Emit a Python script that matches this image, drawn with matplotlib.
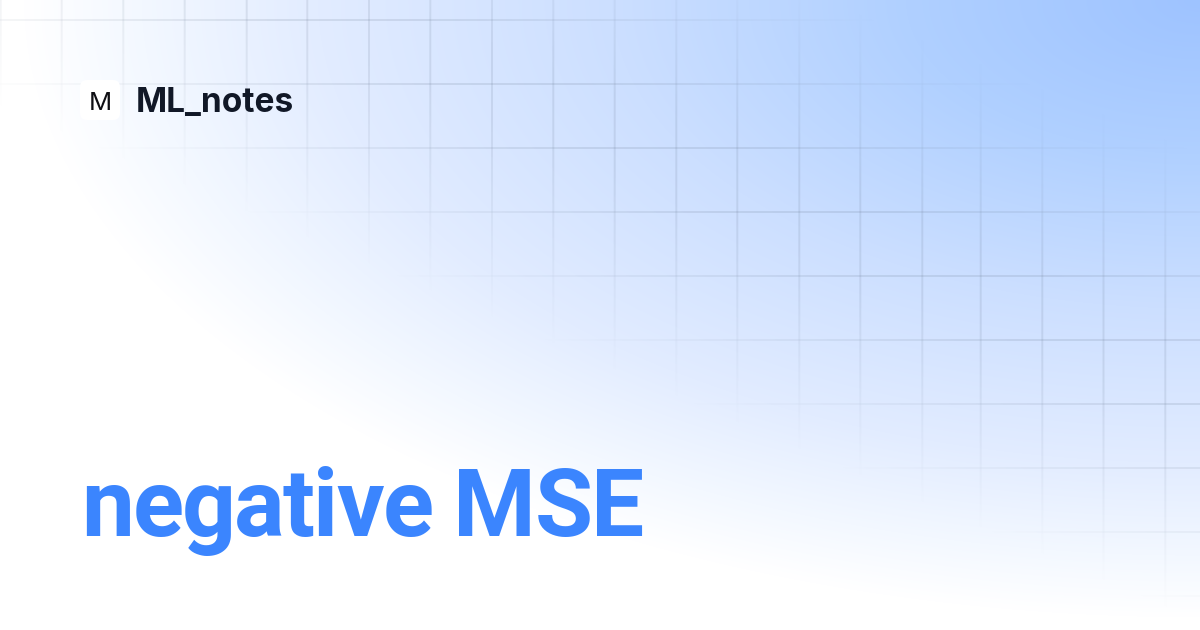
#!/usr/bin/env python3
import numpy as np
import matplotlib
matplotlib.use("Agg")
import matplotlib.pyplot as plt
from matplotlib.font_manager import findfont, get_font
from matplotlib.ft2font import LoadFlags, Kerning
from matplotlib.patches import FancyBboxPatch
from matplotlib.text import Text
from matplotlib.transforms import IdentityTransform

# --- card texts and grid positions (px) ---
BRAND = "ML_notes"
ICON_LETTER = "M"
TITLE = "negative MSE"
GRID_X = [0.7, 61.7, 123.3, 184.7, 246.7, 307.3, 369, 430.3, 492, 553.3,
          614.7, 676.3, 737.3, 799.3, 860.3, 922.3, 980.7, 1042.3, 1103.5, 1165.3]
GRID_Y = [20, 84, 148, 212, 276, 340, 404, 468, 532, 596]

W, H = 1200, 630


class TrackedText(Text):
    """One text object, drawn glyph by glyph with letter spacing in pixels."""

    def __init__(self, *args, tracking=0, **kwargs):
        super().__init__(*args, **kwargs)
        self.tracking = tracking

    def draw(self, renderer):
        prop = self.get_fontproperties()
        font = get_font(findfont(prop))
        font.set_size(prop.get_size_in_points(), self.get_figure().dpi)
        x, y = self.get_transform().transform(self.get_position())
        prev = None
        for ch in self.get_text():
            glyph = font.load_char(ord(ch), flags=LoadFlags.NO_HINTING)
            index = font.get_char_index(ord(ch))
            if prev is not None:
                x += font.get_kerning(prev, index, Kerning.DEFAULT) / 64
            piece = Text(x, y, ch, fontproperties=prop, color=self.get_color(),
                         ha="left", va="baseline", transform=IdentityTransform())
            piece.set_figure(self.get_figure())
            piece.draw(renderer)
            x += glyph.linearHoriAdvance / 65536 + self.tracking
            prev = index


fig = plt.figure(figsize=(W / 100, H / 100), dpi=100)
ax = fig.add_axes([0, 0, 1, 1])
ax.axis("off")

# radial wash from the top right corner, squashed to the card shape
xx, yy = np.meshgrid(np.arange(W) + 0.5, np.arange(H) + 0.5)
d = np.sqrt(((W - xx) / W) ** 2 + (yy / H) ** 2)
t = np.clip(d / 0.98, 0, 1)
# colour stops along the radius, picked by eye
stops = [0.0, 0.25, 0.5, 0.75, 0.9, 1.0]
reds = [158, 176, 204, 226, 243, 255]
greens = [195, 208, 223, 236, 248, 255]
blues = [255, 255, 255, 255, 255, 255]
base = np.dstack([np.interp(t, stops, c) / 255 for c in (reds, greens, blues)])
ax.imshow(base, extent=(0, W, H, 0), aspect="auto", zorder=0, interpolation="bilinear")

# grid lines, later covered by the fade layer (soft, not snapped to pixels)
ax.vlines(GRID_X, 0, H, color="#64748b", alpha=0.15, linewidth=1.4, zorder=1, snap=False)
ax.hlines(GRID_Y, 0, W, color="#64748b", alpha=0.16, linewidth=1.4, zorder=1, snap=False)

# the lines only show in a slanted band across the card
upper = (yy - (-338 + 0.41 * xx)) / 190
lower = ((105 + 0.43 * xx) - yy) / 210
vis = np.clip(np.minimum(upper, lower), 0, 1)
fade = np.dstack([base, 1 - vis])
ax.imshow(fade, extent=(0, W, H, 0), aspect="auto", zorder=2, interpolation="bilinear")
ax.set_xlim(0, W)
ax.set_ylim(H, 0)

# logo
ax.add_patch(FancyBboxPatch((80, 80), 40, 40, boxstyle="round,pad=0,rounding_size=7",
                            facecolor="white", edgecolor="none", zorder=3))
ax.text(100, 100.5, ICON_LETTER, fontfamily="Inter", fontsize=18.5, color="#0f0f14",
        ha="center", va="center_baseline", zorder=4)
ax.text(136, 112, BRAND, fontfamily="Inter", fontweight="bold", fontsize=24,
        color="#111827", ha="left", va="baseline", zorder=4)

# title
title = TrackedText(81.5, 536, TITLE, tracking=-1.8, fontfamily="Roboto", fontweight="bold",
                    fontsize=68, color="#3b85fe", ha="left", va="baseline", zorder=4,
                    transform=ax.transData)
ax.add_artist(title)

fig.savefig("out.png", dpi=100)
